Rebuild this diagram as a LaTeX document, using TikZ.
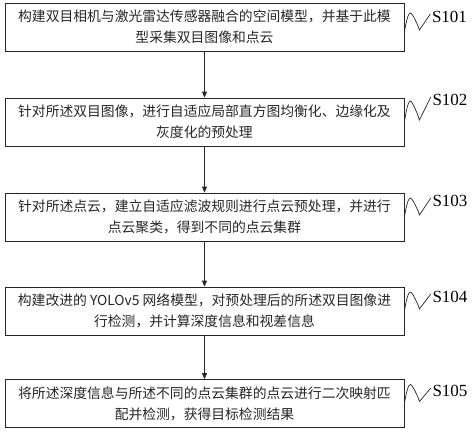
\documentclass[tikz,border=0pt]{standalone}
\usepackage{fontspec}
\setmainfont{Noto Sans CJK SC}
\newfontfamily\labelfont{Liberation Serif}
\usetikzlibrary{arrows.meta}

\tikzset{
  stepbox/.style={draw=black!85, line width=.8pt, minimum width=399pt,
    minimum height=48pt, inner sep=0pt, align=center, text=black!85,
    font=\fontsize{13.8}{21}\selectfont},
  steplabel/.style={font=\labelfont\fontsize{17}{17}\selectfont, inner sep=1.5pt},
  flow/.style={line width=.8pt, draw=black!85, -{Triangle[length=6pt,width=5pt]}},
  wave/.style={line width=.7pt, draw=black!85},
}

\begin{document}
\begin{tikzpicture}[x=1pt,y=1pt]
\useasboundingbox (0,0) rectangle (474,-432);
% boxes
\node[stepbox] (b1) at (204.5,-27) {构建双目相机与激光雷达传感器融合的空间模型，并基于此模\\型采集双目图像和点云};
\node[stepbox] (b2) at (204.5,-122) {针对所述双目图像，进行自适应局部直方图均衡化、边缘化及\\灰度化的预处理};
\node[stepbox] (b3) at (204.5,-217) {针对所述点云，建立自适应滤波规则进行点云预处理，并进行\\点云聚类，得到不同的点云集群};
\node[stepbox] (b4) at (204.5,-311) {构建改进的 YOLOv5 网络模型，对预处理后的所述双目图像进\\行检测，并计算深度信息和视差信息};
\node[stepbox] (b5) at (204.5,-403.5) {将所述深度信息与所述不同的点云集群的点云进行二次映射匹\\配并检测，获得目标检测结果};
% step labels
\node[steplabel] (l1) at (449.5,-17) {S101};
\node[steplabel] (l2) at (450,-100) {S102};
\node[steplabel] (l3) at (450,-201) {S103};
\node[steplabel] (l4) at (450,-297) {S104};
\node[steplabel] (l5) at (450,-391) {S105};
% arrows
\draw[flow] (b1)--(b2);
\draw[flow] (b2)--(b3);
\draw[flow] (b3)--(b4);
\draw[flow] (b4)--(b5);
% leaders
\draw[wave] ([yshift=-5pt]b1.east) .. controls +(2,12) and +(-2,0) .. ++(6,19) .. controls +(2,0) and +(-1,4) .. ++(9,-17) -- ([yshift=3pt]l1.west);
\draw[wave] (b2.east) .. controls +(2,13) and +(-2,0) .. ++(6,21) .. controls +(2,0) and +(-1,4) .. ++(9,-19) -- ([yshift=3pt]l2.west);
\draw[wave] (b3.east) .. controls +(2,12) and +(-2,0) .. ++(6,19) .. controls +(2,0) and +(-1,4) .. ++(9,-17) -- ([yshift=3pt]l3.west);
\draw[wave] (b4.east) .. controls +(2,12) and +(-2,0) .. ++(6,19) .. controls +(2,0) and +(-1,4) .. ++(9,-17) -- ([yshift=3pt]l4.west);
\draw[wave] (b5.east) .. controls +(2,12) and +(-2,0) .. ++(6,19) .. controls +(2,0) and +(-1,4) .. ++(9,-17) -- ([yshift=3pt]l5.west);
\end{tikzpicture}
\end{document}
